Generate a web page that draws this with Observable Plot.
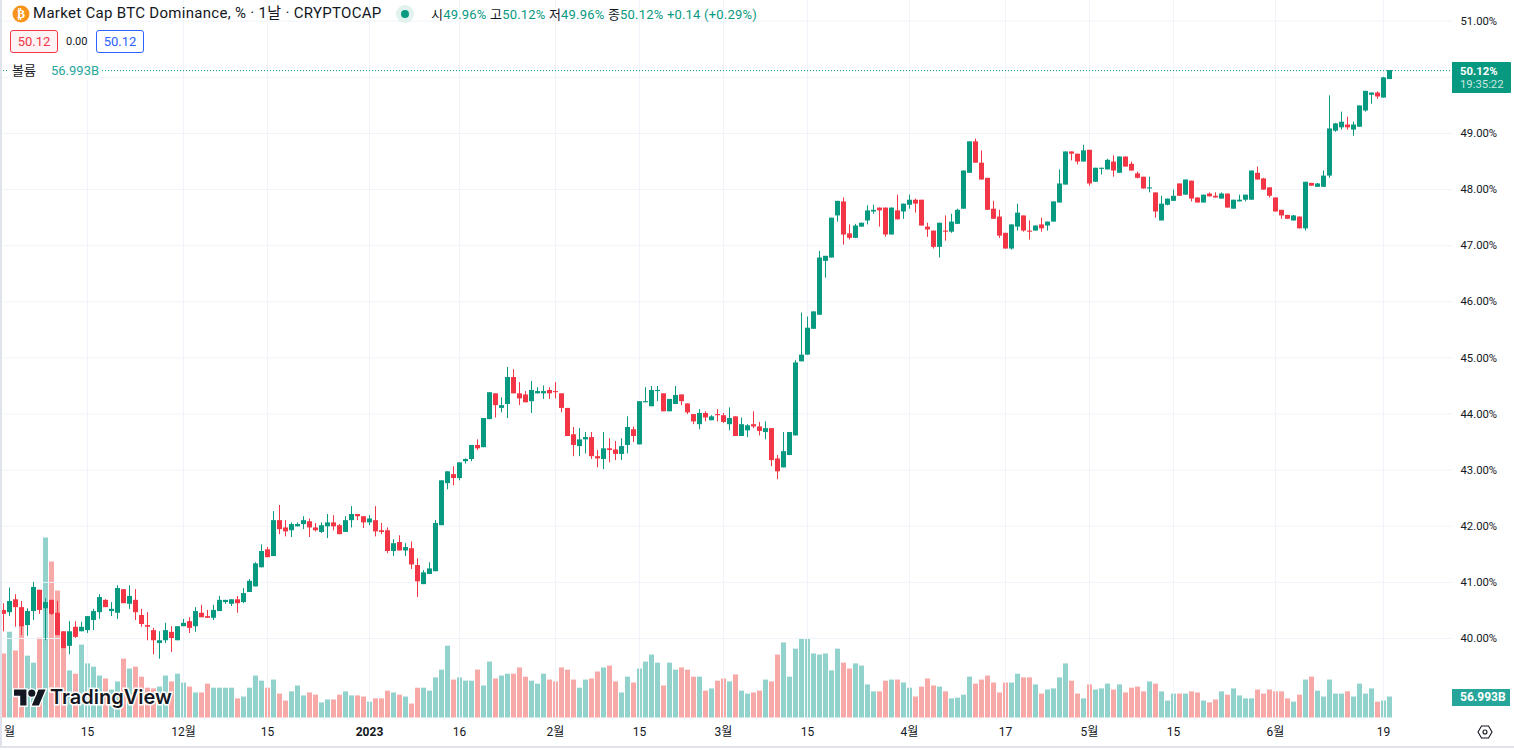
<!DOCTYPE html>
<html lang="ko">
<head>
<meta charset="utf-8">
<script src="https://cdn.jsdelivr.net/npm/d3@7"></script>
<script src="https://cdn.jsdelivr.net/npm/@observablehq/plot@0.6"></script>
<style>
html,body{margin:0;padding:0;background:#fff;overflow:hidden}
#root{position:relative;width:1514px;height:750px;font-family:Roboto,"Noto Sans CJK KR",sans-serif;color:#131722}
.t{white-space:nowrap;line-height:1}
.g{color:#089981}
</style>
</head>
<body>
<div id="root"></div>
<script>
const startDay = Date.UTC(2022, 10, 1);
const opens = [
40.50,40.46,40.69,40.55,40.23,40.48,40.86,40.53,40.68,40.45,
40.12,39.86,40.20,40.12,40.14,40.32,40.46,40.68,40.48,40.45,
40.87,40.61,40.68,40.41,40.23,40.14,39.91,39.96,40.11,39.96,
40.21,40.30,40.21,40.45,40.39,40.36,40.48,40.64,40.61,40.69,
40.64,40.82,40.92,41.26,41.58,41.46,42.10,41.97,41.92,41.99,
42.03,42.08,41.97,41.89,41.99,42.06,42.01,41.89,42.10,42.21,
42.17,42.06,42.10,41.92,41.92,41.55,41.71,41.56,41.60,41.30,
40.96,41.14,41.19,42.01,42.76,42.92,42.85,43.15,43.19,43.44,
43.40,43.90,44.36,44.10,44.17,44.65,44.36,44.34,44.22,44.36,
44.36,44.42,44.40,44.36,44.10,43.63,43.42,43.54,43.58,43.24,
43.19,43.38,43.36,43.28,43.44,43.72,43.45,44.20,44.13,44.40,
44.36,44.04,44.17,44.34,44.18,43.99,43.81,44.01,43.88,43.99,
43.97,43.81,43.95,43.60,43.70,43.81,43.77,43.67,43.74,43.20,
43.04,43.26,43.61,44.93,45.05,45.51,45.76,46.72,46.78,47.53,
47.78,47.21,47.13,47.33,47.44,47.60,47.67,47.67,47.19,47.62,
47.60,47.72,47.81,47.81,47.33,47.26,46.97,47.26,47.24,47.38,
47.65,48.29,48.85,48.47,48.20,47.65,47.51,47.22,46.94,47.33,
47.53,47.26,47.26,47.37,47.35,47.42,47.76,48.08,48.67,48.63,
48.49,48.70,48.13,48.36,48.35,48.49,48.29,48.58,48.45,48.28,
48.22,48.01,47.94,47.44,47.72,47.79,48.10,47.90,48.15,47.85,
47.76,47.92,47.88,47.83,47.92,47.65,47.78,47.81,47.81,48.29,
48.19,48.03,47.85,47.63,47.54,47.44,47.51,47.30,48.11,48.04,
48.04,48.24,49.04,49.10,49.15,49.06,49.11,49.40,49.68,49.72,49.63,49.96];
const closes = [
40.43,40.66,40.55,40.21,40.48,40.91,40.50,40.64,40.43,40.05,
39.82,40.12,40.02,40.20,40.39,40.48,40.73,40.55,40.52,40.89,
40.62,40.75,40.46,40.25,40.20,39.96,39.96,40.14,40.00,40.21,
40.27,40.18,40.48,40.37,40.36,40.50,40.68,40.68,40.69,40.62,
40.80,41.02,41.33,41.55,41.44,42.10,41.94,41.90,42.03,42.03,
42.10,41.97,41.92,42.01,42.06,41.99,41.85,42.10,42.21,42.17,
42.06,42.13,41.90,41.89,41.55,41.69,41.56,41.62,41.31,41.01,
41.17,41.24,42.05,42.81,42.97,42.85,43.13,43.19,43.44,43.38,
43.92,44.38,44.15,44.15,44.65,44.36,44.27,44.20,44.42,44.40,
44.40,44.36,44.38,44.10,43.60,43.44,43.54,43.58,43.24,43.20,
43.38,43.35,43.28,43.42,43.76,43.60,44.22,44.22,44.42,44.42,
44.04,44.26,44.33,44.22,44.02,43.86,44.01,43.93,43.95,43.97,
43.85,43.92,43.60,43.81,43.79,43.77,43.69,43.74,43.17,42.97,
43.33,43.67,44.91,45.05,45.53,45.82,46.78,46.81,47.49,47.79,
47.19,47.13,47.35,47.40,47.62,47.63,47.62,47.19,47.67,47.46,
47.74,47.81,47.74,47.35,47.28,46.97,47.40,47.24,47.42,47.63,
48.33,48.85,48.47,48.17,47.63,47.47,47.17,46.94,47.37,47.58,
47.26,47.24,47.35,47.30,47.42,47.78,48.10,48.67,48.63,48.49,
48.69,48.10,48.38,48.38,48.52,48.33,48.58,48.40,48.33,48.20,
48.01,48.03,47.60,47.74,47.83,47.88,47.88,48.17,47.83,47.76,
47.90,47.87,47.85,47.92,47.67,47.81,47.81,47.90,48.33,48.17,
47.99,47.88,47.60,47.53,47.47,47.53,47.30,48.13,48.06,48.10,
48.24,49.08,49.17,49.20,49.10,49.15,49.49,49.75,49.72,49.65,49.99,50.12];
const highs = [
40.62,40.90,40.78,40.66,40.53,41.00,40.86,40.71,40.68,40.66,
40.12,40.30,40.30,40.29,40.39,40.52,40.78,40.69,40.64,40.94,
40.87,40.94,40.87,40.52,40.46,40.18,40.12,40.27,40.21,40.21,
40.34,40.37,40.55,40.59,40.50,40.59,40.75,40.68,40.69,40.75,
40.89,41.05,41.35,41.67,41.62,42.26,42.37,42.10,42.06,42.06,
42.17,42.13,42.05,42.06,42.21,42.19,42.03,42.17,42.35,42.21,
42.17,42.19,42.35,42.05,41.97,41.76,41.83,41.69,41.72,41.42,
41.21,41.35,42.10,42.81,42.97,43.06,43.13,43.20,43.44,43.54,
43.92,44.38,44.36,44.29,44.83,44.79,44.56,44.40,44.58,44.47,
44.50,44.47,44.56,44.36,44.10,43.76,43.74,43.67,43.67,43.35,
43.67,43.56,43.51,43.56,43.95,43.77,44.22,44.47,44.49,44.49,
44.36,44.26,44.49,44.34,44.18,43.99,44.08,44.04,43.97,44.08,
44.01,44.11,43.95,43.93,43.81,44.04,43.85,43.86,43.74,43.26,
43.67,43.67,44.95,45.80,45.73,45.82,46.90,46.81,47.49,47.79,
47.85,47.37,47.38,47.40,47.71,47.72,47.67,47.67,47.67,47.90,
47.74,47.90,47.83,47.81,47.40,47.26,47.40,47.53,47.56,47.65,
48.33,48.85,48.90,48.69,48.20,47.79,47.63,47.22,47.37,47.74,
47.53,47.44,47.35,47.49,47.42,47.78,48.35,48.67,48.67,48.63,
48.79,48.70,48.38,48.38,48.54,48.60,48.58,48.58,48.49,48.31,
48.22,48.22,47.94,47.88,47.83,47.99,48.10,48.17,48.15,47.85,
47.90,47.94,47.94,47.94,47.92,47.81,47.90,47.90,48.33,48.40,
48.20,48.03,47.85,47.63,47.54,47.54,47.51,48.13,48.11,48.11,
48.33,49.67,49.18,49.38,49.29,49.20,49.49,49.75,49.72,49.74,50.00,50.12];
const lows = [
40.12,40.39,40.20,40.05,40.04,40.32,40.43,39.96,40.41,40.05,
39.82,39.71,40.00,40.12,40.09,40.14,40.34,40.55,40.39,40.34,
40.62,40.52,40.32,40.20,39.96,39.71,39.63,39.91,39.75,39.96,
40.21,40.09,40.11,40.37,40.36,40.32,40.48,40.61,40.57,40.45,
40.62,40.82,40.92,41.26,41.44,41.46,41.85,41.81,41.80,41.99,
41.94,41.80,41.90,41.87,41.78,41.92,41.85,41.89,41.97,42.10,
41.96,42.01,41.81,41.85,41.51,41.46,41.56,41.46,41.23,40.73,
40.96,41.14,41.19,42.01,42.65,42.72,42.81,43.11,43.15,43.35,
43.40,43.90,43.93,44.02,43.92,44.36,44.15,44.20,44.01,44.36,
44.26,44.26,44.27,44.02,43.60,43.24,43.24,43.29,43.19,43.04,
43.01,43.13,43.17,43.17,43.29,43.49,43.45,44.20,44.13,44.22,
44.04,44.04,44.17,44.15,43.99,43.81,43.72,43.86,43.88,43.86,
43.83,43.70,43.60,43.60,43.58,43.74,43.61,43.54,43.06,42.83,
43.04,43.26,43.61,44.93,45.05,45.51,45.76,46.42,46.78,47.42,
47.01,47.10,47.13,47.33,47.37,47.56,47.33,47.15,47.19,47.46,
47.47,47.65,47.58,47.35,47.15,46.94,46.78,47.08,47.22,47.38,
47.65,48.29,48.47,48.17,47.63,47.47,47.13,46.94,46.92,47.26,
47.24,47.10,47.26,47.24,47.26,47.42,47.76,48.08,48.51,48.44,
48.49,48.06,48.13,48.26,48.35,48.22,48.29,48.40,48.33,48.19,
48.01,47.94,47.49,47.44,47.71,47.79,47.88,47.90,47.78,47.76,
47.76,47.87,47.85,47.83,47.67,47.65,47.78,47.78,47.81,48.17,
47.99,47.85,47.60,47.47,47.47,47.44,47.30,47.26,48.06,48.04,
48.04,48.20,49.02,49.06,49.06,48.95,49.11,49.38,49.52,49.61,49.63,49.96];
const volumes = [
174,233,182,252,168,149,217,489,424,345,
190,128,119,198,147,138,114,106,76,98,
160,133,138,111,81,79,84,114,98,119,
95,84,68,68,92,81,81,81,81,52,
57,81,114,100,81,103,65,46,71,87,
60,68,62,41,49,49,62,71,60,60,
57,43,52,52,73,68,62,57,38,81,
81,73,109,130,195,103,109,100,100,130,
87,152,106,114,119,119,136,111,100,92,
119,103,98,136,130,103,81,103,106,125,
136,141,98,68,111,95,133,152,171,149,
87,149,130,136,130,111,111,73,79,100,
106,98,117,73,65,68,73,103,98,171,
204,111,187,214,214,174,171,174,128,187,
149,133,147,141,90,71,71,100,103,103,
95,81,57,84,106,87,84,71,52,54,
62,111,92,103,114,95,68,95,95,119,
109,109,90,65,76,79,109,147,100,65,
52,90,76,79,92,76,90,68,81,84,
71,98,92,71,46,65,65,65,71,68,
46,41,49,71,62,79,60,52,52,76,
65,76,71,71,52,43,62,103,111,73,
57,103,65,65,71,57,92,65,79,43,46,56.993];

const gridDates = [[2022,10,15],[2022,11,1],[2022,11,15],[2023,0,16],[2023,1,1],[2023,1,15],[2023,2,1],[2023,2,15],[2023,3,1],[2023,3,17],[2023,4,1],[2023,4,15],[2023,5,1],[2023,5,19]].map(d => new Date(Date.UTC(...d)));
const gridLabels = ["15","12월","15","16","2월","15","3월","15","4월","17","5월","15","6월","19"];
const cutTick = [new Date(Date.UTC(2022,10,2))];
const cutLabel = "월";
const yearTick = [new Date(Date.UTC(2023,0,1))];
const yearLabel = "2023";
const priceTicks = [40,41,42,43,44,45,46,47,48,49,50,51];
const lastPrice = 50.12;

const UP = "#089981", DOWN = "#F23645";
const candles = opens.map((o,i)=>({date:new Date(startDay+i*864e5),o,c:closes[i],h:highs[i],l:lows[i],v:volumes[i],up:closes[i]>=o}));

const W = 1514, H = 750, PANE = 1452;
const xDomain = [new Date(startDay-0.5*864e5), new Date(startDay+241.5*864e5)];
const font = 'Roboto,"Noto Sans CJK KR",sans-serif';
const labelOf = new Map(gridDates.map((d,i)=>[+d,gridLabels[i]]));

const volPlot = Plot.plot({
  width:W,height:H,marginLeft:0,marginRight:W-PANE,marginTop:0,marginBottom:30,
  style:{background:"transparent",fontFamily:font},
  x:{type:"utc",domain:xDomain,axis:null},
  y:{domain:[0,489],range:[717.5,537.5],axis:null},
  marks:[
    Plot.ruleX(candles,{x:"date",y1:0,y2:"v",stroke:d=>d.up?"#26a69a":"#ef5350",strokeOpacity:0.5,strokeWidth:5})
  ]
});

const mainPlot = Plot.plot({
  width:W,height:H,marginLeft:0,marginRight:W-PANE,marginTop:0,marginBottom:30,
  style:{background:"transparent",fontFamily:font,fontSize:"12px",color:"#131722",overflow:"hidden"},
  x:{type:"utc",domain:xDomain},
  y:{domain:[40,51],range:[638,20.7]},
  marks:[
    Plot.gridX({ticks:gridDates.concat(yearTick),stroke:"#f0f3fa",strokeOpacity:1}),
    Plot.gridY({ticks:priceTicks,stroke:"#f0f3fa",strokeOpacity:1}),
    Plot.axisX({ticks:gridDates,tickFormat:d=>labelOf.get(+d),tickSize:0,tickPadding:7,label:null,fontSize:12,fill:"#131722"}),
    Plot.axisX({ticks:cutTick,tickFormat:()=>cutLabel,tickSize:0,tickPadding:7,label:null,fontSize:12,fill:"#131722"}),
    Plot.axisX({ticks:yearTick,tickFormat:()=>yearLabel,tickSize:0,tickPadding:7,label:null,fontSize:12,fontWeight:700,fill:"#131722"}),
    Plot.axisY({anchor:"right",ticks:priceTicks.filter(d=>d!==50),tickFormat:d=>d.toFixed(2)+"%",tickSize:0,tickPadding:8,label:null,fontSize:11.3,fill:"#131722"}),
    Plot.ruleY([lastPrice],{stroke:UP,strokeDasharray:"1 2",strokeWidth:1}),
    Plot.ruleX(candles,{x:"date",y1:"l",y2:"h",stroke:d=>d.up?UP:DOWN,strokeWidth:1}),
    Plot.ruleX(candles,{x:"date",y1:"o",y2:"c",stroke:d=>d.up?UP:DOWN,strokeWidth:5})
  ]
});

const root = document.getElementById("root");
for (const p of [volPlot, mainPlot]) {
  p.style.position="absolute"; p.style.left="0"; p.style.top="0";
  root.appendChild(p);
}

function put(html, css) {
  const d = document.createElement("div");
  d.className = "t"; d.innerHTML = html;
  Object.assign(d.style, {position:"absolute"}, css);
  root.appendChild(d);
  return d;
}
put("",{left:"0",top:"0",width:"2px",height:"746px",background:"#e0e3eb"});
put("",{left:"0",top:"746px",width:"1514px",height:"2px",background:"#e0e3eb"});
put('<svg width="18" height="18" viewBox="0 0 18 18"><circle cx="9" cy="9" r="8.5" fill="#f7931a"/><text x="9" y="13" text-anchor="middle" font-size="12" font-weight="700" fill="#fff" font-family="Roboto">₿</text></svg>',{left:"12px",top:"5px"});
put('Market Cap BTC Dominance, % · 1날 · CRYPTOCAP',{left:"33px",top:"6px",fontSize:"15px",letterSpacing:".3px"});
put('<svg width="18" height="18"><circle cx="9" cy="9" r="9" fill="#e1f2ef"/><circle cx="9" cy="9" r="4" fill="#089981"/></svg>',{left:"396px",top:"5px"});
put('시<span class="g">49.96%</span> 고<span class="g">50.12%</span> 저<span class="g">49.96%</span> 종<span class="g">50.12%</span> <span class="g">+0.14 (+0.29%)</span>',{left:"431px",top:"8px",fontSize:"13px",letterSpacing:".2px"});
put('50.12',{left:"10px",top:"30px",width:"46px",height:"21px",lineHeight:"21px",textAlign:"center",border:"1px solid #f23645",borderRadius:"3px",background:"#fdf3f4",color:"#f23645",fontSize:"13px"});
put('0.00',{left:"66px",top:"36px",fontSize:"11px"});
put('50.12',{left:"96px",top:"30px",width:"46px",height:"21px",lineHeight:"21px",textAlign:"center",border:"1px solid #2962ff",borderRadius:"3px",background:"#fff",color:"#2962ff",fontSize:"13px"});
put('볼륨',{left:"8px",top:"62px",width:"42px",padding:"2px 0 2px 4px",boxSizing:"border-box",background:"#fff",fontSize:"13px",lineHeight:"14px"});
put('56.993B',{left:"50px",top:"62px",padding:"2px 1px",background:"#fff",color:"#26a69a",fontSize:"13px",lineHeight:"14px"});
put('<div style="font-weight:700;color:#fff">50.12%</div><div style="color:#c8e8e1;margin-top:2px">19:35:22</div>',{left:"1452px",top:"62px",width:"59px",height:"31px",paddingLeft:"8px",boxSizing:"border-box",background:"#089981",fontSize:"11.3px",paddingTop:"4px",borderRadius:"0 1px 1px 0"});
put('56.993B',{left:"1452px",top:"689px",width:"58px",height:"17px",lineHeight:"17px",paddingLeft:"8px",boxSizing:"border-box",background:"#26a69a",color:"#fff",fontSize:"12px",fontWeight:"700"});
put('<svg width="16" height="16" viewBox="0 0 16 16" fill="none" stroke="#131722" stroke-width="1.1"><path d="M4.5 2h7L15 8l-3.5 6h-7L1 8z"/><circle cx="8" cy="8" r="2"/></svg>',{left:"1477px",top:"724px"});
put('<svg width="32" height="25" viewBox="0 0 36 28" style="overflow:visible" fill="#131722" stroke="#fff" stroke-width="3" paint-order="stroke"><path d="M14 22H7V11H0V4h14v18zM28 22h-8l7.5-18h8L28 22z"/><circle cx="20" cy="8" r="4"/></svg>',{left:"14px",top:"686px"});
put('TradingView',{left:"50px",top:"687px",fontFamily:"Inter,Roboto,sans-serif",fontSize:"20px",fontWeight:"600",color:"#131722",webkitTextStroke:"3px #fff",paintOrder:"stroke fill"});
</script>
</body>
</html>
